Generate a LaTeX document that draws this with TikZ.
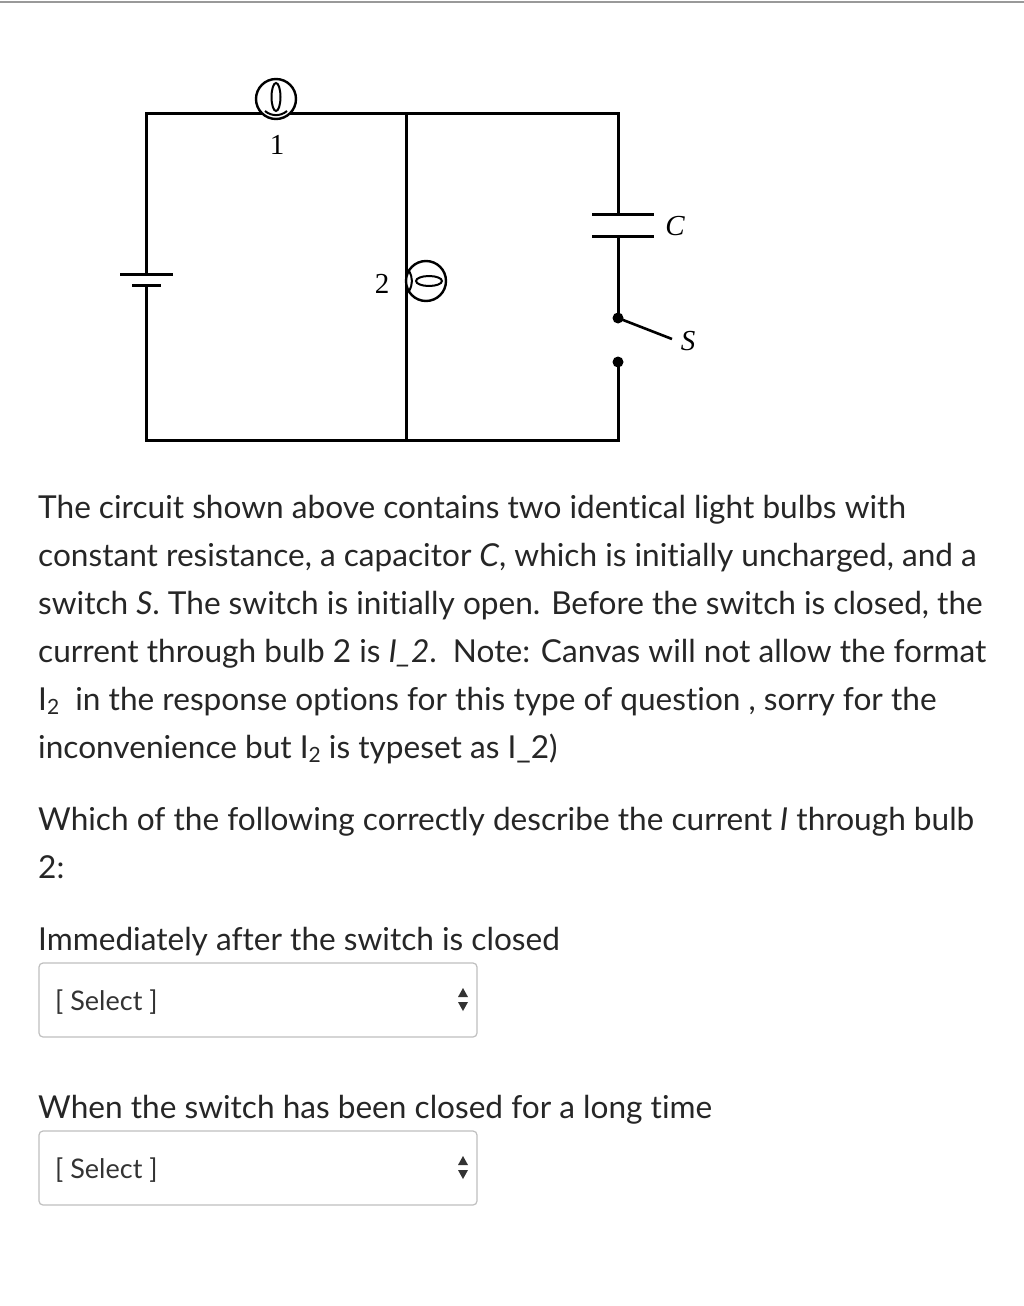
\documentclass[tikz,border=0pt]{standalone}
\usepackage{fontspec}
\setmainfont{Lato}[Ligatures=NoCommon]
\newfontfamily\serifc{Liberation Serif}
\begin{document}
\begin{tikzpicture}[x=1pt,y=-1pt,
  wire/.style={line width=3pt,line cap=rect},
  txt/.style={anchor=base west,inner sep=0pt,font=\fontsize{31.6}{31.6}\selectfont,text=black!85},
  lbl/.style={font=\serifc\fontsize{29}{29}\selectfont,inner sep=0pt},
  selbox/.style={draw=black!25,line width=1.2pt,rounded corners=4pt,fill=white},
  seltxt/.style={anchor=base west,inner sep=0pt,font=\fontsize{27}{27}\selectfont,text=black!80}]
\useasboundingbox (0,0) rectangle (1024,1306);
\fill[white] (0,0) rectangle (1024,1306);
\draw[black!40,line width=1.5pt] (0,2) -- (1024,2);
% circuit
\coordinate (tl) at (146,113); \coordinate (tm) at (406,113); \coordinate (tr) at (618,113);
\coordinate (bl) at (146,440); \coordinate (bm) at (406,440); \coordinate (br) at (618,440);
\coordinate (bat1) at (146,274); \coordinate (bat2) at (146,285);
\coordinate (c1) at (618,214); \coordinate (c2) at (618,236);
\coordinate (s1) at (618,318); \coordinate (s2) at (618,362); \coordinate (sx) at (672,339);
\draw[wire] (bat1) -- (tl) -- (tr) -- (c1);
\draw[wire] (c2) -- (s1);
\draw[wire] (s2) -- (br) -- (bl) -- (bat2);
\draw[wire] (tm) -- (bm);
\draw[wire] (121,274) -- (171,274);
\draw[wire] (133,285) -- (159,285);
\draw[wire] (593,214) -- (652,214);
\draw[wire] (593,236) -- (652,236);
\draw[line width=2.6pt] (s1) -- (sx);
\fill (s1) circle (5.5); \fill (s2) circle (5.5);
\node[draw,line width=2.4pt,circle,minimum size=40pt,inner sep=0pt,fill=white] (b1) at (276,99) {};
\draw[line width=2pt] (276,97) ellipse (4.5 and 14);
\draw[line width=2pt] (265,111) to[bend right=40] (287,111);
\node[draw,line width=2.4pt,circle,minimum size=40pt,inner sep=0pt,fill=white] (b2) at (426,281) {};
\draw[line width=2pt] (429,281) ellipse (13 and 5);
\draw[line width=2pt] (409,271) to[bend left=30] (409,291);
\node[lbl] (l1) at (277,145) {1};
\node[lbl] (l2) at (382,284) {2};
\node[lbl] (lc) at (675,226) {\itshape C};
\node[lbl] (ls) at (688,341) {\itshape S};
% text
\newcommand\subtwo{\raisebox{-4.5pt}{\fontsize{21}{21}\selectfont 2}}
\node[txt] at (38,518) {The circuit shown above contains two identical light bulbs with};
\node[txt] at (38,566) {constant resistance, a capacitor \textit{C}, which is initially uncharged, and a};
\node[txt] at (38,614) {switch \textit{S}. The switch is initially open. Before the switch is closed, the};
\node[txt] at (38,662) {current through bulb 2 is \textit{I\_2}.\ \ Note: Canvas will not allow the format};
\node[txt] at (38,710) {I\subtwo\ \ in the response options for this type of question , sorry for the};
\node[txt] at (38,758) {inconvenience but I\subtwo\ is typeset as I\_2)};
\node[txt] at (38,830) {Which of the following correctly describe the current \textit{I} through bulb};
\node[txt] at (38,878) {2:};
\node[txt] at (38,950) {Immediately after the switch is closed};
\draw[selbox] (39,963) rectangle (477,1037);
\node[seltxt] at (55,1010) {[ Select ]};
\fill[black!80] (458,997) -- (468,997) -- (463,988) -- cycle;
\fill[black!80] (458,1002) -- (468,1002) -- (463,1011) -- cycle;
\node[txt] at (38,1118) {When the switch has been closed for a long time};
\draw[selbox] (39,1131) rectangle (477,1205);
\node[seltxt] at (55,1178) {[ Select ]};
\fill[black!80] (458,1165) -- (468,1165) -- (463,1156) -- cycle;
\fill[black!80] (458,1170) -- (468,1170) -- (463,1179) -- cycle;
\end{tikzpicture}
\end{document}
